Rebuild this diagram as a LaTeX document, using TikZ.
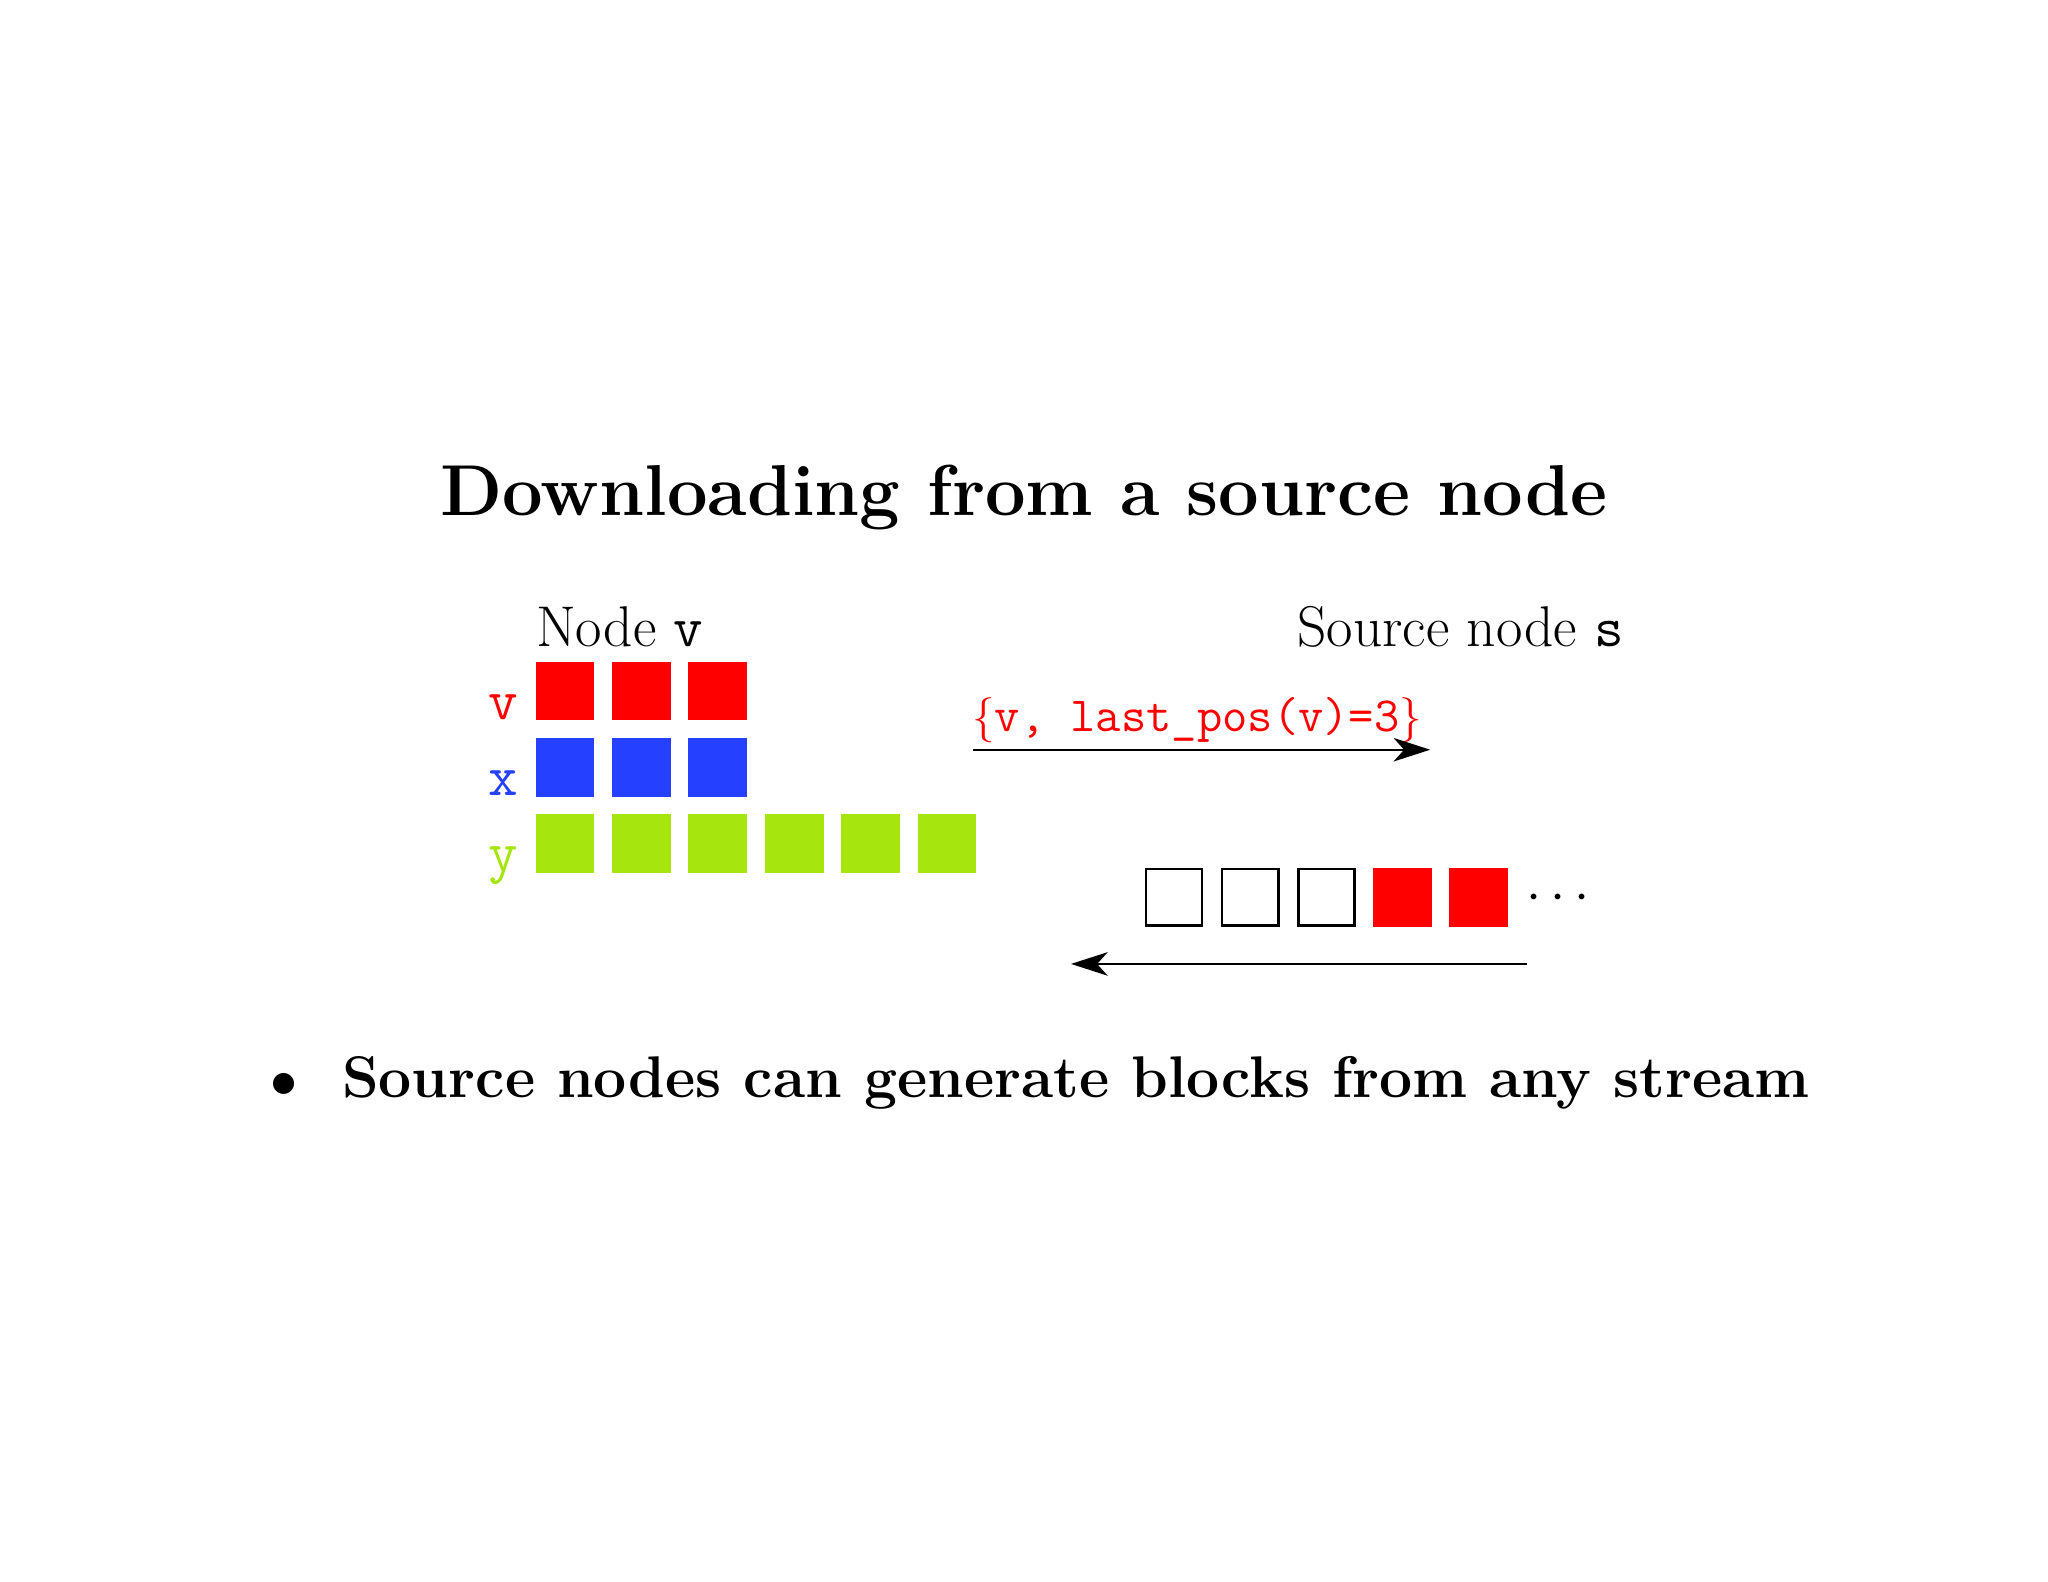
\documentclass[tikz,border=0pt]{standalone}
\usetikzlibrary{arrows.meta}
\definecolor{cr}{rgb}{1,0,0}
\definecolor{cb}{rgb}{0.15,0.25,1}
\definecolor{cg}{rgb}{0.65,0.9,0.05}
\begin{document}
\begin{tikzpicture}[x=0.5pt,y=-0.5pt,
  sq/.style={minimum width=22.5pt,minimum height=22.5pt,inner sep=0pt,outer sep=0pt},
  lab/.style={font=\fontsize{22}{24}\selectfont,inner sep=0pt},
  arr/.style={line width=0.9pt,-{Stealth[length=14pt,width=9pt,inset=4pt]}}]
\useasboundingbox (0,0) rectangle (1568,1211);
\node[font=\fontsize{27.6}{30}\selectfont\bfseries,anchor=base,inner sep=0pt] (title) at (784,395) {Downloading from a source node};
\node[lab,anchor=base west] (nv) at (410,495) {Node \texttt{v}};
\node[lab,anchor=base west] (ns) at (993,495) {Source node \texttt{s}};
\node[lab,anchor=base,text=cr] (lv) at (385,551) {\texttt{v}};
\node[lab,anchor=base,text=cb] (lx) at (385,609) {\texttt{x}};
\node[lab,anchor=base,text=cg] (ly) at (385,667) {\texttt{y}};
\foreach \i in {0,1,2} {
  \node[sq,fill=cr] (r\i) at (432.5+58.5*\i,529) {};
  \node[sq,fill=cb] (b\i) at (432.5+58.5*\i,587.5) {};
}
\foreach \i in {0,...,5} \node[sq,fill=cg] (g\i) at (432.5+58.5*\i,645.5) {};
\node[font=\fontsize{18.8}{21}\selectfont,inner sep=0pt,anchor=base west,text=cr] (msg) at (744,560) {$\{$\texttt{v, last\_pos(v)=3}$\}$};
\coordinate (a1s) at (745,574); \coordinate (a1e) at (1095,574);
\draw[arr] (a1s) -- (a1e);
\foreach \i in {0,1,2} \node[sq,draw=black,line width=0.9pt,minimum width=21.5pt,minimum height=21.5pt] (w\i) at (899+58.3*\i,687) {};
\foreach \i in {3,4} \node[sq,fill=cr] (w\i) at (899+58.3*\i,687) {};
\node[lab,anchor=base west] (dots) at (1168,697) {$\cdots$};
\coordinate (a2s) at (1169,738); \coordinate (a2e) at (820,738);
\draw[arr] (a2s) -- (a2e);
\node[font=\fontsize{22.5}{25}\selectfont\bfseries,anchor=base west,inner sep=0pt] (bul) at (207,840) {$\bullet$\ \ Source nodes can generate blocks from any stream};
\end{tikzpicture}
\end{document}
